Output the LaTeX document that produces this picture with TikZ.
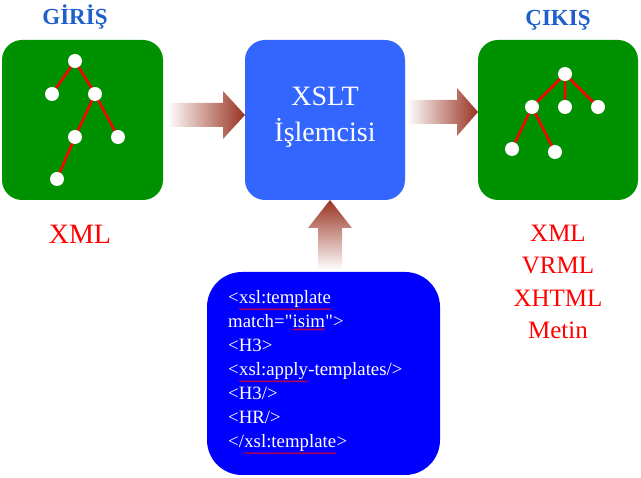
\documentclass[tikz,border=0pt]{standalone}
\usepackage{fontspec}
\setmainfont{Liberation Serif}
\usetikzlibrary{decorations.pathmorphing}
\definecolor{grn}{HTML}{009100}
\definecolor{xb}{HTML}{3366FF}
\definecolor{brn}{HTML}{993322}
\definecolor{ttl}{HTML}{1F5FCC}
\newcommand\wv[1]{\tikz[baseline=(w.base)]{\node[inner sep=0pt,outer sep=0pt](w){#1};\draw[red,line width=0.6pt,decorate,decoration={snake,amplitude=0.7pt,segment length=2.5pt}]([yshift=-2pt]w.south west)--([yshift=-2pt]w.south east);}}
\newcommand\qq{\textquotedbl}
\begin{document}
\begin{tikzpicture}[x=1pt,y=-1pt,
  gbox/.style={fill=grn,rounded corners=20pt},
  dot/.style={circle,fill=white,minimum size=14pt,inner sep=0pt},
  edge/.style={red,line width=2.5pt},
  lbl/.style={font=\fontsize{28}{32}\selectfont,text=red,align=center},
  ttlst/.style={font=\bfseries\fontsize{23}{26}\selectfont,text=ttl}]
\useasboundingbox (0,0) rectangle (641,478);
% boxes
\fill[gbox] (2,40) rectangle (163,200);
\fill[gbox] (478,40) rectangle (638,200);
\fill[xb,rounded corners=20pt] (245,40) rectangle (405,200);
\node[text=white,align=center,font=\fontsize{28}{36}\selectfont] (x) at (325,117) {XSLT\\İşlemcisi};
% arrows
\shade[left color=white,right color=brn] (167,103)--(223,103)--(223,91)--(245,115)--(223,139)--(223,127)--(167,127)--cycle;
\shade[left color=white,right color=brn] (407,100)--(457,100)--(457,88)--(478,112)--(457,136)--(457,124)--(407,124)--cycle;
\shade[bottom color=white,top color=brn] (318,270)--(318,228)--(308,228)--(330,200)--(352,228)--(342,228)--(342,270)--cycle;
% left tree
\coordinate (a) at (75,61);
\coordinate (b) at (52,94);
\coordinate (c) at (95,94);
\coordinate (d) at (75,137);
\coordinate (e) at (118,137);
\coordinate (f) at (57,179);
\draw[edge] (a)--(b) (a)--(c) (c)--(d) (c)--(e) (d)--(f);
\foreach \n in {a,b,c,d,e,f} \node[dot] at (\n) {};
% right tree
\coordinate (r) at (565,74);
\coordinate (r1) at (532,107);
\coordinate (r2) at (565,107);
\coordinate (r3) at (598,107);
\coordinate (r4) at (512,149);
\coordinate (r5) at (555,152);
\draw[edge] (r)--(r1) (r)--(r2) (r)--(r3) (r1)--(r4) (r1)--(r5);
\foreach \n in {r,r1,r2,r3,r4,r5} \node[dot] at (\n) {};
% labels
\node[ttlst] (g) at (75,17) {GİRİŞ};
\node[ttlst] (k) at (558,20) {ÇIKIŞ};
\node[lbl] (xl) at (80,234) {XML};
\node[lbl,font=\fontsize{25}{32.5}\selectfont] (ol) at (558,282) {XML\\VRML\\XHTML\\Metin};
% code box
\fill[blue,rounded corners=35pt] (207,272) rectangle (440,475);
\node[anchor=north west,text=white,align=left,font=\fontsize{18.8}{24}\selectfont,inner sep=0pt] (code) at (228,290) {%
<\wv{xsl:template}\\
match=\qq\wv{isim}\qq>\\
<H3>\\
<\wv{xsl:apply}-templates/>\\
<H3/>\\
<HR/>\\
</\wv{xsl:template}>};
\end{tikzpicture}
\end{document}
